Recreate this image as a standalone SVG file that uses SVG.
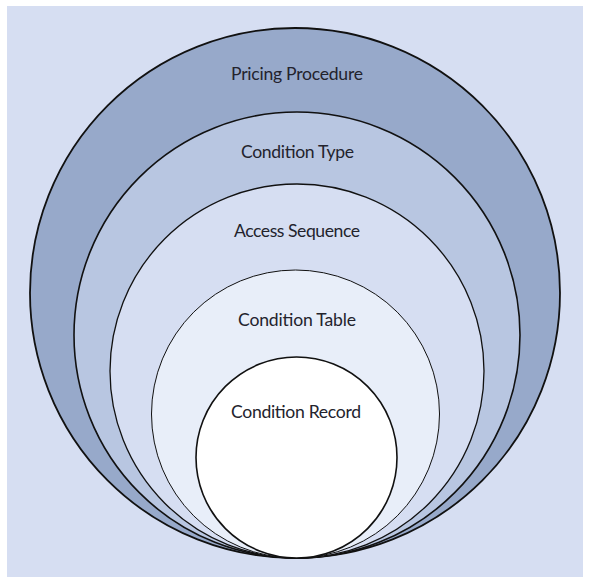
<svg xmlns="http://www.w3.org/2000/svg" width="591" height="583" viewBox="0 0 591 583">
<style>
.lbl{font-family:Lato,"Liberation Sans",sans-serif;font-size:17.6px;fill:#23232d;text-anchor:middle}
.ring{stroke:#111}
</style>
<rect x="7" y="6" width="576" height="571" fill="#d6def2"/>
<g id="pricing-procedure">
<circle class="ring" cx="295" cy="293" r="265" fill="#97a9ca" stroke-width="1.8"/>
<text class="lbl" x="297" y="80" textLength="132">Pricing Procedure</text>
</g>
<g id="condition-type">
<circle class="ring" cx="297" cy="335" r="223" fill="#b8c6e1" stroke-width="1.6"/>
<text class="lbl" x="297.5" y="158" textLength="113">Condition Type</text>
</g>
<g id="access-sequence">
<circle class="ring" cx="297" cy="371" r="187" fill="#d6def2" stroke-width="1.3"/>
<text class="lbl" x="297" y="237" textLength="126">Access Sequence</text>
</g>
<g id="condition-table">
<circle class="ring" cx="295.5" cy="414" r="144" fill="#e8eef9" stroke-width="1"/>
<text class="lbl" x="297" y="326" textLength="118">Condition Table</text>
</g>
<g id="condition-record">
<circle class="ring" cx="296.5" cy="457.5" r="100.5" fill="#ffffff" stroke-width="1.6"/>
<text class="lbl" x="296" y="418" textLength="130">Condition Record</text>
</g>
<g id="connectors"/>
</svg>
